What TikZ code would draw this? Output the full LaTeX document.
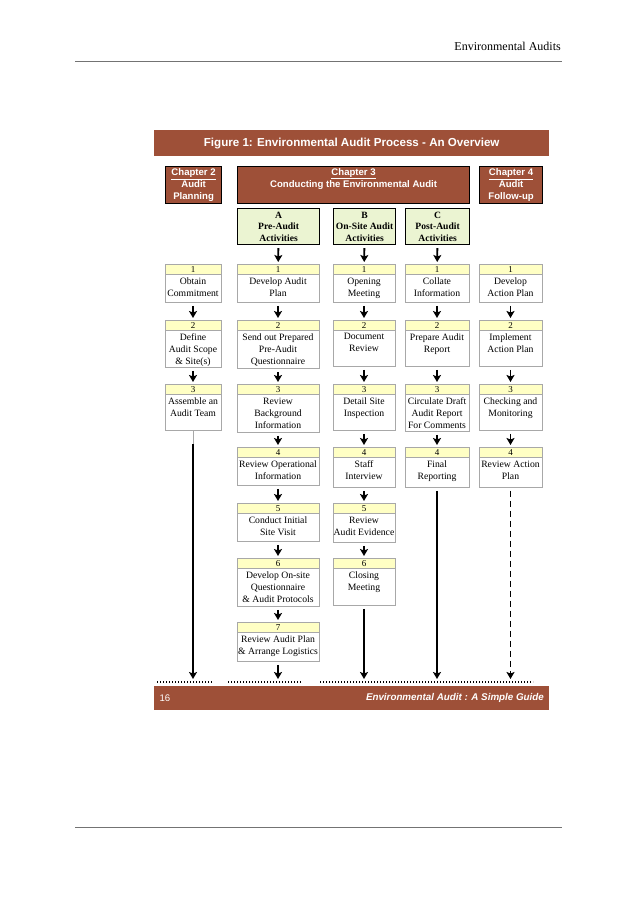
\documentclass[tikz,border=0pt]{standalone}
\usepackage{fontspec}
\setmainfont{Liberation Serif}
\setsansfont{Liberation Sans}
\usetikzlibrary{arrows.meta}

\definecolor{chapbrown}{RGB}{158,80,56}
\definecolor{actgreen}{RGB}{235,244,210}
\definecolor{numyellow}{RGB}{255,255,196}
\definecolor{framegrey}{RGB}{168,168,168}

% step box: name, x, top, width, height, number, text
\newcommand{\stepbox}[7]{%
\node[stepframe, minimum width=#4pt, minimum height=#5pt] (#1) at (#2,#3) {};
\node[stepnum, minimum width=#4pt] (#1-n) at (#1.north) {#6};
\node[steptext] (#1-t) at (#1-n.south) {#7};
}

\begin{document}
\begin{tikzpicture}[x=1pt, y=-1pt,
  stepframe/.style={draw=framegrey, line width=0.9pt, fill=white, anchor=north, inner sep=0pt},
  stepnum/.style={draw=framegrey, line width=0.9pt, fill=numyellow, anchor=north, minimum height=10pt, inner sep=0pt, font=\fontsize{9}{10}\selectfont},
  steptext/.style={anchor=north, align=center, inner xsep=0pt, inner ysep=2.5pt, font=\fontsize{9.7}{12}\selectfont},
  chapbox/.style={draw=black, line width=1.2pt, fill=chapbrown, text=white, anchor=north west, align=center, inner sep=0pt, minimum height=37pt, font=\sffamily\bfseries\fontsize{9.6}{11.8}\selectfont},
  actbox/.style={draw=black, line width=1.2pt, fill=actgreen, anchor=north west, align=center, inner sep=0pt, minimum height=36pt, font=\bfseries\fontsize{9.6}{11.5}\selectfont},
  bar/.style={fill=chapbrown, anchor=north west, minimum width=395pt, inner sep=0pt},
  flow/.style={-{Stealth[length=7pt,width=8pt,inset=1.5pt]}, line width=1.8pt, shorten <=3pt, shorten >=2pt},
  rule/.style={draw=black!55, line width=0.8pt},
  dots/.style={line width=1.3pt, dash pattern=on 1.3pt off 1.7pt}]
\useasboundingbox (0,0) rectangle (638,903);

% page header and footer
\node[anchor=base east, inner sep=0pt, font=\fontsize{12}{14}\selectfont] (head) at (561,50) {Environmental Audits};
\draw[rule] (75,61) -- (562,61);
\draw[rule] (75,827) -- (562,827);

% title and chapters
\node[bar, minimum height=26pt, text=white, font=\sffamily\bfseries\fontsize{11.6}{13}\selectfont] (title) at (154,130) {Figure 1: Environmental Audit Process - An Overview};
\node[chapbox, minimum width=56pt] (ch2) at (165,166) {\underline{Chapter 2}\\Audit\\Planning};
\node[chapbox, minimum width=232pt] (ch3) at (237,166) {\underline{Chapter 3}\\Conducting the Environmental Audit\\[3pt]};
\node[chapbox, minimum width=63pt] (ch4) at (479,166) {\underline{Chapter 4}\\Audit\\Follow-up};
\node[actbox, minimum width=82pt] (actA) at (237,208) {A\\Pre-Audit\\Activities};
\node[actbox, minimum width=62pt] (actB) at (333,208) {B\\On-Site Audit\\Activities};
\node[actbox, minimum width=64pt] (actC) at (405,208) {C\\Post-Audit\\Activities};

% column 1
\stepbox{c1s1}{193}{264}{56}{38}{1}{Obtain\\Commitment}
\stepbox{c1s2}{193}{320}{56}{47}{2}{Define\\Audit Scope\\\& Site(s)}
\stepbox{c1s3}{193}{384}{56}{46}{3}{Assemble an\\Audit Team}
% column 2
\stepbox{c2s1}{278}{264}{82}{38}{1}{Develop Audit\\Plan}
\stepbox{c2s2}{278}{320}{82}{48}{2}{Send out Prepared\\Pre-Audit\\Questionnaire}
\stepbox{c2s3}{278}{384}{82}{48}{3}{Review\\Background\\Information}
\stepbox{c2s4}{278}{447}{82}{38}{4}{Review Operational\\Information}
\stepbox{c2s5}{278}{503}{82}{38}{5}{Conduct Initial\\Site Visit}
\stepbox{c2s6}{278}{558}{82}{48}{6}{Develop On-site\\Questionnaire\\\& Audit Protocols}
\stepbox{c2s7}{278}{622}{82}{39}{7}{Review Audit Plan\\\& Arrange Logistics}
% column 3
\stepbox{c3s1}{364}{264}{62}{38}{1}{Opening\\Meeting}
\stepbox{c3s2}{364}{320}{62}{46}{2}{Document\\Review}
\stepbox{c3s3}{364}{384}{62}{46}{3}{Detail Site\\Inspection}
\stepbox{c3s4}{364}{447}{62}{40}{4}{Staff\\Interview}
\stepbox{c3s5}{364}{503}{62}{39}{5}{Review\\Audit Evidence}
\stepbox{c3s6}{364}{558}{62}{47}{6}{Closing\\Meeting}
% column 4
\stepbox{c4s1}{437}{264}{64}{38}{1}{Collate\\Information}
\stepbox{c4s2}{437}{320}{64}{46}{2}{Prepare Audit\\Report}
\stepbox{c4s3}{437}{384}{64}{47}{3}{Circulate Draft\\Audit Report\\For Comments}
\stepbox{c4s4}{437}{447}{64}{40}{4}{Final\\Reporting}
% column 5
\stepbox{c5s1}{510.5}{264}{63}{38}{1}{Develop\\Action Plan}
\stepbox{c5s2}{510.5}{320}{63}{46}{2}{Implement\\Action Plan}
\stepbox{c5s3}{510.5}{384}{63}{46}{3}{Checking and\\Monitoring}
\stepbox{c5s4}{510.5}{447}{63}{40}{4}{Review Action\\Plan}

% footer bar
\node[bar, minimum height=24pt] (foot) at (154,686) {};
\node[anchor=west, text=white, font=\sffamily\fontsize{9.6}{11}\selectfont] (page) at ([xshift=2pt]foot.west) {16};
\node[anchor=east, text=white, font=\sffamily\bfseries\itshape\fontsize{9.8}{11}\selectfont] (guide) at ([xshift=-2pt]foot.east) {Environmental Audit : A Simple Guide};

% ends of the columns
\coordinate (g1) at (193,444);
\coordinate (e1) at (193,679);
\coordinate (e2) at (278,679);
\coordinate (e3) at (364,679);
\coordinate (e4) at (437,679);
\coordinate (e5) at (510.5,679);

\draw[flow] (actA) -- (c2s1);
\draw[flow] (actB) -- (c3s1);
\draw[flow] (actC) -- (c4s1);
\foreach \i/\j in {1/2,2/3} \draw[flow] (c1s\i) -- (c1s\j);
\foreach \i/\j in {1/2,2/3,3/4,4/5,5/6,6/7} \draw[flow] (c2s\i) -- (c2s\j);
\foreach \i/\j in {1/2,2/3,3/4,4/5,5/6} \draw[flow] (c3s\i) -- (c3s\j);
\foreach \i/\j in {1/2,2/3,3/4} \draw[flow] (c4s\i) -- (c4s\j);
\foreach \i/\j in {1/2,2/3,3/4} \draw[flow] (c5s\i) -- (c5s\j);

\draw[framegrey, line width=1pt] (c1s3) -- (g1);
\draw[flow, shorten <=0pt, shorten >=0pt] (g1) -- (e1);
\draw[flow, shorten >=0pt] (c2s7) -- (e2);
\draw[flow, shorten >=0pt] (c3s6) -- (e3);
\draw[flow, shorten >=0pt] (c4s4) -- (e4);
\draw[flow, shorten >=0pt, dash pattern=on 6pt off 4pt] (c5s4) -- (e5);

% dotted base line
\draw[dots] (157,682) -- (212,682);
\draw[dots] (228,682) -- (302,682);
\draw[dots] (320,682) -- (533,682);
\end{tikzpicture}
\end{document}
